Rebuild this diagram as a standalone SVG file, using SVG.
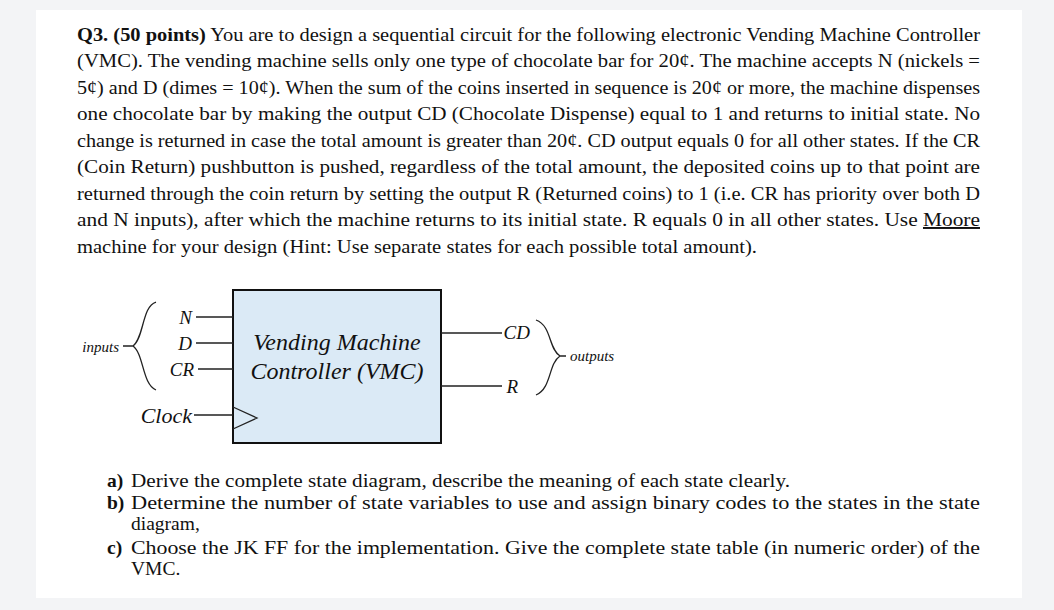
<svg xmlns="http://www.w3.org/2000/svg" width="1054" height="610" viewBox="0 0 1054 610">
<style>
.t{font-family:"Liberation Serif",serif;font-size:19.5px;fill:#111}
.i{font-family:"Liberation Serif",serif;font-style:italic;fill:#111}
.w{stroke:#222;stroke-width:1.3;fill:none}
</style>
<rect width="1054" height="610" fill="#f3f4f6"/>
<rect x="36" y="10" width="986" height="588" fill="#fff"/>
<g id="text">
<text class="t" x="77" y="41" textLength="903" lengthAdjust="spacingAndGlyphs"><tspan font-weight="bold">Q3. (50 points)</tspan> You are to design a sequential circuit for the following electronic Vending Machine Controller</text>
<text class="t" x="77" y="67" textLength="903" lengthAdjust="spacingAndGlyphs">(VMC). The vending machine sells only one type of chocolate bar for 20¢. The machine accepts N (nickels =</text>
<text class="t" x="77" y="94" textLength="903" lengthAdjust="spacingAndGlyphs">5¢) and D (dimes = 10¢). When the sum of the coins inserted in sequence is 20¢ or more, the machine dispenses</text>
<text class="t" x="77" y="120" textLength="903" lengthAdjust="spacingAndGlyphs">one chocolate bar by making the output CD (Chocolate Dispense) equal to 1 and returns to initial state. No</text>
<text class="t" x="77" y="147" textLength="903" lengthAdjust="spacingAndGlyphs">change is returned in case the total amount is greater than 20¢. CD output equals 0 for all other states. If the CR</text>
<text class="t" x="77" y="173" textLength="903" lengthAdjust="spacingAndGlyphs">(Coin Return) pushbutton is pushed, regardless of the total amount, the deposited coins up to that point are</text>
<text class="t" x="77" y="200" textLength="903" lengthAdjust="spacingAndGlyphs">returned through the coin return by setting the output R (Returned coins) to 1 (i.e. CR has priority over both D</text>
<text class="t" x="77" y="226" textLength="903" lengthAdjust="spacingAndGlyphs">and N inputs), after which the machine returns to its initial state. R equals 0 in all other states. Use <tspan text-decoration="underline">Moore</tspan></text>
<text class="t" x="77" y="253" textLength="680" lengthAdjust="spacingAndGlyphs">machine for your design (Hint: Use separate states for each possible total amount).</text>
<text class="t" x="107" y="487"><tspan font-weight="bold">a)</tspan></text>
<text class="t" x="131" y="487" textLength="659" lengthAdjust="spacingAndGlyphs">Derive the complete state diagram, describe the meaning of each state clearly.</text>
<text class="t" x="107" y="509"><tspan font-weight="bold">b)</tspan></text>
<text class="t" x="131" y="509" textLength="849" lengthAdjust="spacingAndGlyphs">Determine the number of state variables to use and assign binary codes to the states in the state</text>
<text class="t" x="131" y="530">diagram,</text>
<text class="t" x="107" y="554"><tspan font-weight="bold">c)</tspan></text>
<text class="t" x="131" y="554" textLength="849" lengthAdjust="spacingAndGlyphs">Choose the JK FF for the implementation. Give the complete state table (in numeric order) of the</text>
<text class="t" x="131" y="575">VMC.</text>
</g>
<g id="vmc">
<rect x="233" y="290" width="208" height="153" fill="#dbeaf6" stroke="#111" stroke-width="2"/>
<text class="i" x="337" y="350" font-size="24" text-anchor="middle">Vending Machine</text>
<text class="i" x="337" y="379" font-size="24" text-anchor="middle">Controller (VMC)</text>
<path class="w" d="M233 407 L257 418 L233 429"/>
</g>
<g id="labels">
<text class="i" x="192" y="324" font-size="19" text-anchor="end">N</text>
<text class="i" x="192" y="350" font-size="19" text-anchor="end">D</text>
<text class="i" x="194" y="376" font-size="19" text-anchor="end">CR</text>
<text class="i" x="192" y="423" font-size="22" text-anchor="end">Clock</text>
<text class="i" x="119" y="352" font-size="15" text-anchor="end">inputs</text>
<text class="i" x="530" y="339" font-size="19" text-anchor="end">CD</text>
<text class="i" x="518" y="393" font-size="19" text-anchor="end">R</text>
<text class="i" x="570" y="361" font-size="15">outputs</text>
</g>
<g id="connectors">
<path class="w" d="M196 317H233M196 343H233M198 369H233M194 415H233M441 333H502M441 386H502"/>
<path class="w" d="M156 302 C142 306 144 338 133 346 C144 354 142 384 156 390 M123 346H133"/>
<path class="w" d="M536 320 C552 326 548 348 560 356 C548 364 552 388 536 395 M560 356H566"/>
</g>
</svg>
